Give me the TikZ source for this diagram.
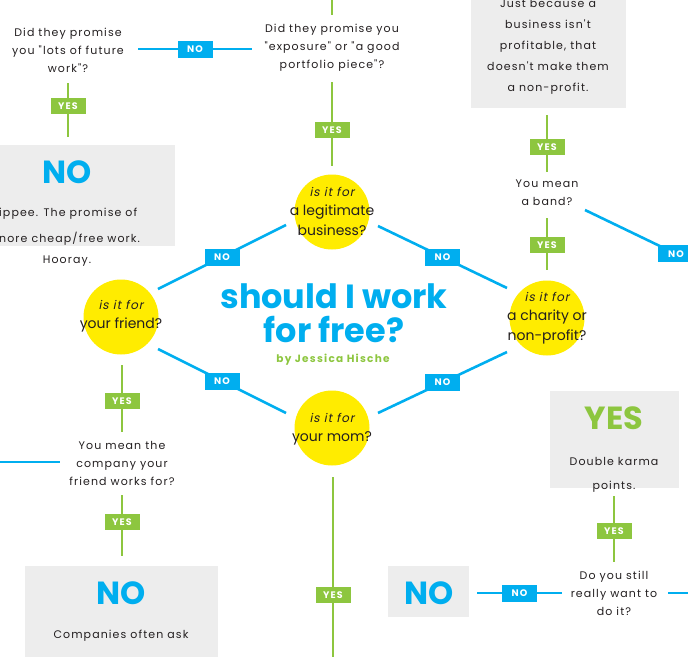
\documentclass[tikz,border=0pt]{standalone}
\usepackage{fontspec}
\setmainfont{Poppins}
\newfontfamily\bodyfont[LetterSpace=10]{Poppins}
\newfontfamily\slfont[FakeSlant=0.2,LetterSpace=8]{Poppins}
\newfontfamily\labfont[LetterSpace=12]{Poppins}
\usetikzlibrary{calc}
\definecolor{cblue}{HTML}{00AEEF}
\definecolor{cgreen}{HTML}{8DC63F}
\definecolor{cyel}{HTML}{FFEC00}
\definecolor{cgray}{HTML}{EDEDED}
\definecolor{ctext}{HTML}{231F20}
\tikzset{
  qtext/.style={align=center, font=\bodyfont\fontsize{11}{18}\selectfont, text=ctext, inner sep=0pt},
  boxtext/.style={align=center, font=\bodyfont\fontsize{11}{21}\selectfont, text=ctext, inner sep=0pt},
  circ/.style={circle, fill=cyel, minimum size=75pt, inner sep=0pt},
  circtext/.style={align=center, font=\fontsize{14}{19.5}\selectfont, text=ctext, inner sep=0pt},
  graybox/.style={fill=cgray, inner sep=0pt, anchor=north west},
  bigno/.style={font=\bfseries\fontsize{32}{32}\selectfont, text=cblue, inner sep=0pt},
  bigyes/.style={font=\bfseries\fontsize{32}{32}\selectfont, text=cgreen, inner sep=0pt},
  gline/.style={draw=cgreen, line width=2.6pt},
  bline/.style={draw=cblue, line width=2.6pt},
  yeslab/.style={fill=cgreen, text=white, font=\labfont\bfseries\fontsize{9.5}{9.5}\selectfont, minimum width=35pt, minimum height=16pt, inner sep=0pt},
  nolab/.style={fill=cblue, text=white, font=\labfont\bfseries\fontsize{9.5}{9.5}\selectfont, minimum width=35pt, minimum height=17pt, inner sep=0pt},
}
\begin{document}
\begin{tikzpicture}[x=1pt,y=-1pt]
\useasboundingbox (0,0) rectangle (688,656);
\clip (0,0) rectangle (688,656);

% gray boxes
\node[graybox, minimum width=195pt, minimum height=101pt] (b1) at (-20,145) {};
\node[graybox, minimum width=155pt, minimum height=128pt] (b2) at (471,-20) {};
\node[graybox, minimum width=129pt, minimum height=97pt] (b3) at (550,391) {};
\node[graybox, minimum width=193pt, minimum height=110pt] (b4) at (25,566) {};
\node[graybox, minimum width=81pt, minimum height=51pt] (b5) at (388,566) {};

% box contents
\node[bigno] (b1no) at (67,172) {NO};
\node[boxtext, anchor=west] (b1l1) at (-1,214) {ippee. The promise of};
\node[boxtext, anchor=west] (b1l2) at (-1,239) {nore cheap/free work.};
\node[boxtext] (b1l3) at (67,261) {Hooray.};
\node[boxtext] (b2t) at (548,47) {Just because a\\business isn't\\profitable, that\\doesn't make them\\a non-profit.};
\node[bigyes] (b3yes) at (614,418) {YES};
\node[boxtext] (b3l1) at (614,461) {Double karma};
\node[boxtext] (b3l2) at (614,487) {points.};
\node[bigno] (b4no) at (121,593) {NO};
\node[boxtext] (b4l1) at (121,636) {Companies often ask};
\node[bigno] (b5no) at (429,593) {NO};

% questions
\node[qtext] (q1) at (68,50) {Did they promise\\you "lots of future\\work"?};
\node[qtext] (q2) at (332,48) {Did they promise you\\"exposure" or "a good\\portfolio piece"?};
\node[qtext] (bandq) at (547,193) {You mean\\a band?};
\node[qtext] (fq) at (122,463) {You mean the\\company your\\friend works for?};
\node[qtext] (dq) at (614,593) {Do you still\\really want to\\do it?};

% circles
\node[circ] (c1) at (332,212) {};
\node[circtext] (c1t) at (332,211) {{\slfont\fontsize{12}{13}\selectfont is it for}\\a legitimate\\business?};
\node[circ] (c2) at (121,317) {};
\node[circtext] (c2t) at (121,316) {{\slfont\fontsize{12}{13}\selectfont is it for}\\your friend?};
\node[circ] (c3) at (547,318) {};
\node[circtext] (c3t) at (547,318) {{\slfont\fontsize{12}{13}\selectfont is it for}\\a charity or\\non-profit?};
\node[circ] (c4) at (332,428) {};
\node[circtext] (c4t) at (332,429) {{\slfont\fontsize{12}{13}\selectfont is it for}\\your mom?};

% title
\node[align=center, font=\bfseries\fontsize{33.5}{34}\selectfont, text=cblue, inner sep=0pt] (title) at (334,313) {should I work\\for free?};
\node[font=\labfont\bfseries\fontsize{10.5}{12}\selectfont, text=cgreen, inner sep=0pt] (author) at (333,360) {by Jessica Hische};

% free ends
\coordinate (topend) at (332,-5);
\coordinate (bandend) at (720,275);
\coordinate (leftend) at (-5,462);
\coordinate (botend) at (333,662);
\coordinate (rightend) at (694,593);

% green connectors
\draw[gline] (topend) -- ($(q2)+(0,-33)$);
\draw[gline] ($(q2)+(0,34)$) -- node[pos=0.57, yeslab] (y1) {YES} ($(c1)+(0,-46)$);
\draw[gline] ($(q1)+(0,33)$) -- node[pos=0.43, yeslab] (y2) {YES} ($(q1)+(0,87)$);
\draw[gline] ($(bandq)+(0,-78)$) -- node[pos=0.56, yeslab] (y3) {YES} ($(bandq)+(0,-21)$);
\draw[gline] ($(bandq)+(0,25)$) -- node[pos=0.52, yeslab] (y4) {YES} ($(c3)+(0,-48)$);
\draw[gline] ($(c2)+(1,48)$) -- node[pos=0.54, yeslab] (y5) {YES} ($(fq)+(0,-31)$);
\draw[gline] ($(fq)+(0,32)$) -- node[pos=0.44, yeslab] (y6) {YES} ($(fq)+(0,93)$);
\draw[gline] ($(c4)+(1,49)$) -- node[pos=0.64, yeslab] (y7) {YES} (botend);
\draw[gline] ($(dq)+(0,-97)$) -- node[pos=0.53, yeslab] (y8) {YES} ($(dq)+(0,-31)$);

% blue connectors
\draw[bline] ($(q1)+(70,-1)$) -- node[nolab] (n1) {NO} ($(q2)+(-80,1)$);
\draw[bline] ($(c1)+(-46,13)$) -- node[nolab] (n2) {NO} ($(c2)+(37,-28)$);
\draw[bline] ($(c1)+(46,14)$) -- node[nolab] (n3) {NO} ($(c3)+(-40,-30)$);
\draw[bline] ($(c2)+(37,32)$) -- node[nolab] (n4) {NO} ($(c4)+(-46,-15)$);
\draw[bline] ($(c3)+(-40,34)$) -- node[nolab] (n5) {NO} ($(c4)+(46,-15)$);
\draw[bline] ($(bandq)+(38,17)$) -- node[pos=0.674, nolab] (n6) {NO} (bandend);
\draw[bline] (leftend) -- ($(fq)+(-62,-1)$);
\draw[bline] ($(dq)+(-52,0)$) -- node[nolab] (n7) {NO} ($(dq)+(-137,0)$);
\draw[bline] ($(dq)+(54,0)$) -- (rightend);
\end{tikzpicture}
\end{document}
